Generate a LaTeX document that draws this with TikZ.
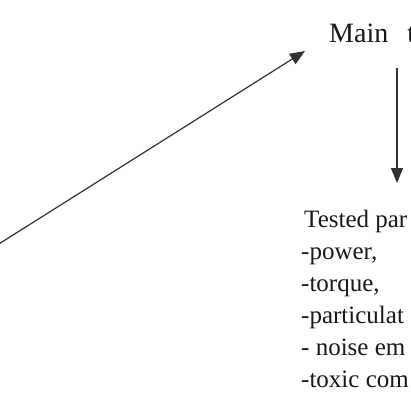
\documentclass[tikz,border=0pt]{standalone}
\usepackage{fontspec}
\setmainfont{Liberation Serif}
\usetikzlibrary{arrows.meta}
\tikzset{
  bigtxt/.style={inner sep=0pt, anchor=base west, text=black!90, font=\fontsize{28bp}{32bp}\selectfont},
  listtxt/.style={inner sep=0pt, anchor=base west, text=black!90, font=\fontsize{25bp}{32bp}\selectfont},
  conn/.style={draw=black!80, line width=1.2bp, -{Triangle[length=15bp,width=12bp]}}
}
\begin{document}
\begin{tikzpicture}[x=1bp,y=-1bp]
\useasboundingbox[fill=white] (0,0) rectangle (411,411);
\clip (0,0) rectangle (411,411);
\node[bigtxt] (main) at (329,42) {Main\hspace*{19bp}t};
\node[listtxt] (l1) at (304,227) {Tested par};
\node[listtxt] (l2) at (301,259) {-power,};
\node[listtxt] (l3) at (301,291) {-torque,};
\node[listtxt] (l4) at (301,323) {-particulat};
\node[listtxt] (l5) at (301,355) {- noise em};
\node[listtxt] (l6) at (301,387) {-toxic com};
\coordinate (src) at (-6,247);
\coordinate (mainin) at (305,51);
\coordinate (mainout) at (397,68);
\coordinate (paramsin) at (397,183);
\draw[conn] (src) -- (mainin);
\draw[conn] (mainout) -- (paramsin);
\end{tikzpicture}
\end{document}
